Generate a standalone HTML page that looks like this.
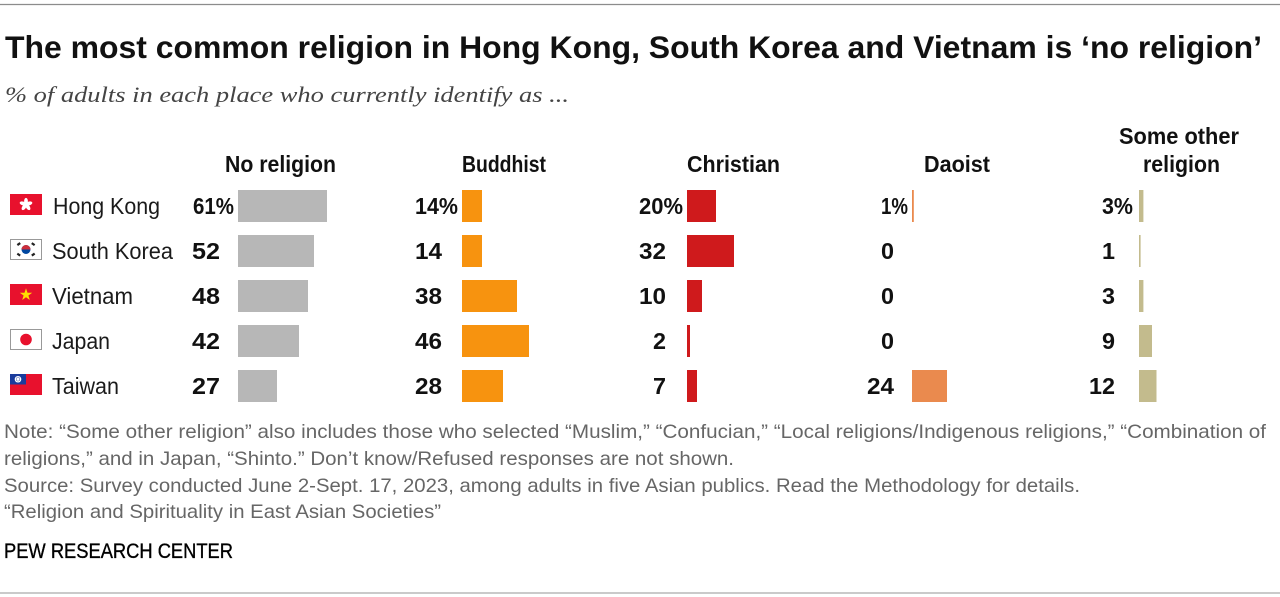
<!DOCTYPE html>
<html><head><meta charset="utf-8"><style>
html,body{margin:0;padding:0;background:#fff;}
svg{display:block;}
.b{font-family:"Liberation Sans",sans-serif;font-weight:bold;fill:#111;}
.lab{font-family:"Liberation Sans",sans-serif;font-size:23px;fill:#1a1a1a;}
.num{font-family:"Liberation Sans",sans-serif;font-weight:bold;font-size:23px;fill:#111;}
.note{font-family:"Liberation Sans",sans-serif;font-size:19.5px;fill:#666;}
</style></head><body>
<svg width="1280" height="597" viewBox="0 0 1280 597" xmlns="http://www.w3.org/2000/svg">
<rect width="1280" height="597" fill="#fff"/>
<line x1="0" y1="4.5" x2="1280" y2="4.5" stroke="#8c8c8c" stroke-width="1.2"/>
<line x1="0" y1="593" x2="1280" y2="593" stroke="#aaaaaa" stroke-width="1.2"/>

<text class="b" x="5" y="58" font-size="31.5" fill="#000" textLength="1257" lengthAdjust="spacingAndGlyphs">The most common religion in Hong Kong, South Korea and Vietnam is ‘no religion’</text>
<text x="5" y="102" font-family="'Liberation Serif',serif" font-style="italic" font-size="22.5" fill="#444" textLength="564" lengthAdjust="spacingAndGlyphs">% of adults in each place who currently identify as ...</text>

<!-- headers -->
<text class="b" x="225" y="172" font-size="23" textLength="111" lengthAdjust="spacingAndGlyphs">No religion</text>
<text class="b" x="462" y="172" font-size="23" textLength="84" lengthAdjust="spacingAndGlyphs">Buddhist</text>
<text class="b" x="687" y="172" font-size="23" textLength="93" lengthAdjust="spacingAndGlyphs">Christian</text>
<text class="b" x="924" y="172" font-size="23" textLength="66" lengthAdjust="spacingAndGlyphs">Daoist</text>
<text class="b" x="1119" y="144" font-size="23" textLength="120" lengthAdjust="spacingAndGlyphs">Some other</text>
<text class="b" x="1143" y="172" font-size="23" textLength="77" lengthAdjust="spacingAndGlyphs">religion</text>

<!-- flags -->
<g transform="translate(10,194)">
<rect width="32" height="21" fill="#e8112d"/>
<g transform="translate(16,10.5)" fill="#fff">
<ellipse cx="0" cy="-3.3" rx="1.9" ry="3.3"/>
<ellipse cx="0" cy="-3.3" rx="1.9" ry="3.3" transform="rotate(72)"/>
<ellipse cx="0" cy="-3.3" rx="1.9" ry="3.3" transform="rotate(144)"/>
<ellipse cx="0" cy="-3.3" rx="1.9" ry="3.3" transform="rotate(216)"/>
<ellipse cx="0" cy="-3.3" rx="1.9" ry="3.3" transform="rotate(288)"/>
</g>
</g>
<g transform="translate(10,239)">
<rect x="0.5" y="0.5" width="31" height="20" fill="#fff" stroke="#999" stroke-width="1"/>
<circle cx="16" cy="10.5" r="4.5" fill="#0047a0"/>
<path d="M11.5,10.5 A4.5,4.5 0 0 1 20.5,10.5 Z" fill="#cd2e3a"/>
<g fill="#222">
<rect x="7" y="4" width="3.5" height="2.2" transform="rotate(-35 8.7 5)"/>
<rect x="21.5" y="4" width="3.5" height="2.2" transform="rotate(35 23.2 5)"/>
<rect x="7" y="14.5" width="3.5" height="2.2" transform="rotate(35 8.7 15.6)"/>
<rect x="21.5" y="14.5" width="3.5" height="2.2" transform="rotate(-35 23.2 15.6)"/>
</g>
</g>
<g transform="translate(10,284)">
<rect width="32" height="21" fill="#e8112d"/>
<polygon points="16,4.2 17.5,8.7 22.2,8.7 18.4,11.5 19.8,16 16,13.2 12.2,16 13.6,11.5 9.8,8.7 14.5,8.7" fill="#ffdd00"/>
</g>
<g transform="translate(10,329)">
<rect x="0.5" y="0.5" width="31" height="20" fill="#fff" stroke="#999" stroke-width="1"/>
<circle cx="16" cy="10.5" r="5.8" fill="#e8112d"/>
</g>
<g transform="translate(10,374)">
<rect width="32" height="21" fill="#e8112d"/>
<rect width="16" height="10.5" fill="#1a3b9c"/>
<circle cx="8" cy="5.25" r="3.3" fill="#fff"/>
<circle cx="8" cy="5.25" r="2" fill="#1a3b9c"/>
<circle cx="8" cy="5.25" r="1.6" fill="#fff"/>
</g>

<!-- country labels -->
<text class="lab" x="53" y="214" textLength="107" lengthAdjust="spacingAndGlyphs">Hong Kong</text>
<text class="lab" x="52" y="259" textLength="121" lengthAdjust="spacingAndGlyphs">South Korea</text>
<text class="lab" x="52" y="304" textLength="81" lengthAdjust="spacingAndGlyphs">Vietnam</text>
<text class="lab" x="52" y="349" textLength="58" lengthAdjust="spacingAndGlyphs">Japan</text>
<text class="lab" x="52" y="394" textLength="67" lengthAdjust="spacingAndGlyphs">Taiwan</text>

<!-- No religion -->
<g fill="#b7b7b7">
<rect x="238" y="190" width="89" height="32"/>
<rect x="238" y="235" width="76" height="32"/>
<rect x="238" y="280" width="70" height="32"/>
<rect x="238" y="325" width="61" height="32"/>
<rect x="238" y="370" width="39" height="32"/>
</g>
<text class="num" x="193" y="214" textLength="41" lengthAdjust="spacingAndGlyphs">61%</text>
<text class="num" x="192" y="259" textLength="28" lengthAdjust="spacingAndGlyphs">52</text>
<text class="num" x="192" y="304" textLength="28" lengthAdjust="spacingAndGlyphs">48</text>
<text class="num" x="192" y="349" textLength="28" lengthAdjust="spacingAndGlyphs">42</text>
<text class="num" x="192" y="394" textLength="28" lengthAdjust="spacingAndGlyphs">27</text>

<!-- Buddhist -->
<g fill="#f7930f">
<rect x="462" y="190" width="20" height="32"/>
<rect x="462" y="235" width="20" height="32"/>
<rect x="462" y="280" width="55" height="32"/>
<rect x="462" y="325" width="67" height="32"/>
<rect x="462" y="370" width="41" height="32"/>
</g>
<text class="num" x="415" y="214" textLength="43" lengthAdjust="spacingAndGlyphs">14%</text>
<text class="num" x="415" y="259" textLength="27" lengthAdjust="spacingAndGlyphs">14</text>
<text class="num" x="415" y="304" textLength="27" lengthAdjust="spacingAndGlyphs">38</text>
<text class="num" x="415" y="349" textLength="27" lengthAdjust="spacingAndGlyphs">46</text>
<text class="num" x="415" y="394" textLength="27" lengthAdjust="spacingAndGlyphs">28</text>

<!-- Christian -->
<g fill="#cf1a1c">
<rect x="687" y="190" width="29" height="32"/>
<rect x="687" y="235" width="47" height="32"/>
<rect x="687" y="280" width="15" height="32"/>
<rect x="687" y="325" width="3" height="32"/>
<rect x="687" y="370" width="10" height="32"/>
</g>
<text class="num" x="639" y="214" textLength="44" lengthAdjust="spacingAndGlyphs">20%</text>
<text class="num" x="639" y="259" textLength="27" lengthAdjust="spacingAndGlyphs">32</text>
<text class="num" x="639" y="304" textLength="27" lengthAdjust="spacingAndGlyphs">10</text>
<text class="num" x="653" y="349" textLength="13" lengthAdjust="spacingAndGlyphs">2</text>
<text class="num" x="653" y="394" textLength="13" lengthAdjust="spacingAndGlyphs">7</text>

<!-- Daoist -->
<g fill="#ea8a4e">
<rect x="912" y="190" width="1.8" height="32"/>
<rect x="912" y="370" width="35" height="32"/>
</g>
<text class="num" x="881" y="214" textLength="27" lengthAdjust="spacingAndGlyphs">1%</text>
<text class="num" x="881" y="259" textLength="13" lengthAdjust="spacingAndGlyphs">0</text>
<text class="num" x="881" y="304" textLength="13" lengthAdjust="spacingAndGlyphs">0</text>
<text class="num" x="881" y="349" textLength="13" lengthAdjust="spacingAndGlyphs">0</text>
<text class="num" x="867" y="394" textLength="27" lengthAdjust="spacingAndGlyphs">24</text>

<!-- Some other religion -->
<g fill="#c3bb8d">
<rect x="1139" y="190" width="4.4" height="32"/>
<rect x="1139" y="235" width="1.6" height="32"/>
<rect x="1139" y="280" width="4.4" height="32"/>
<rect x="1139" y="325" width="13" height="32"/>
<rect x="1139" y="370" width="17.5" height="32"/>
</g>
<text class="num" x="1102" y="214" textLength="31" lengthAdjust="spacingAndGlyphs">3%</text>
<text class="num" x="1102" y="259" textLength="13" lengthAdjust="spacingAndGlyphs">1</text>
<text class="num" x="1102" y="304" textLength="13" lengthAdjust="spacingAndGlyphs">3</text>
<text class="num" x="1102" y="349" textLength="13" lengthAdjust="spacingAndGlyphs">9</text>
<text class="num" x="1089" y="394" textLength="26" lengthAdjust="spacingAndGlyphs">12</text>

<!-- notes -->
<text class="note" x="4" y="438" textLength="1262" lengthAdjust="spacingAndGlyphs">Note: “Some other religion” also includes those who selected “Muslim,” “Confucian,” “Local religions/Indigenous religions,” “Combination of</text>
<text class="note" x="4" y="465" textLength="730" lengthAdjust="spacingAndGlyphs">religions,” and in Japan, “Shinto.” Don’t know/Refused responses are not shown.</text>
<text class="note" x="4" y="492" textLength="1076" lengthAdjust="spacingAndGlyphs">Source: Survey conducted June 2-Sept. 17, 2023, among adults in five Asian publics. Read the Methodology for details.</text>
<text class="note" x="4" y="518" textLength="437" lengthAdjust="spacingAndGlyphs">“Religion and Spirituality in East Asian Societies”</text>
<text x="4" y="558" font-family="'Liberation Sans',sans-serif" font-size="21" fill="#000" stroke="#000" stroke-width="0.35" textLength="229" lengthAdjust="spacingAndGlyphs">PEW RESEARCH CENTER</text>
</svg>
</body></html>
